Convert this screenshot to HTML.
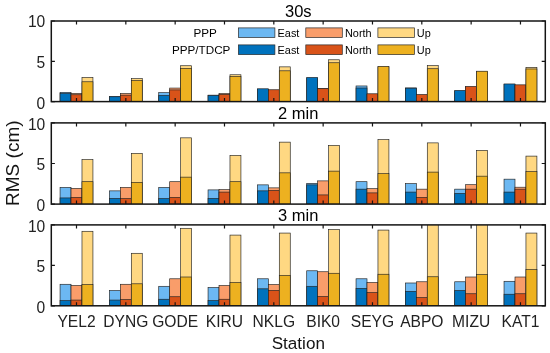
<!DOCTYPE html>
<html><head><meta charset="utf-8"><style>
html,body{margin:0;padding:0;background:#fff;width:550px;height:353px;overflow:hidden}
svg{display:block;font-family:'Liberation Sans', Arial, sans-serif}
</style></head><body>
<svg width="550" height="353" viewBox="0 0 550 353">
<rect x="0" y="0" width="550" height="353" fill="#fff"/>
<g>
<clipPath id="c0"><rect x="51.3" y="21.0" width="493.99999999999994" height="80.6"/></clipPath>
<g clip-path="url(#c0)" stroke="#222" stroke-width="0.65">
<rect x="60.06" y="92.33" width="10.96" height="9.27" fill="#6cb8f2"/>
<rect x="60.06" y="93.54" width="10.96" height="8.06" fill="#0072bd"/>
<rect x="71.02" y="93.38" width="10.96" height="8.22" fill="#f99d6a"/>
<rect x="71.02" y="94.75" width="10.96" height="6.85" fill="#d95319"/>
<rect x="81.98" y="77.42" width="10.96" height="24.18" fill="#ffd882"/>
<rect x="81.98" y="81.77" width="10.96" height="19.83" fill="#edb120"/>
<rect x="109.39" y="96.44" width="10.96" height="5.16" fill="#6cb8f2"/>
<rect x="109.39" y="96.76" width="10.96" height="4.84" fill="#0072bd"/>
<rect x="120.35" y="93.46" width="10.96" height="8.14" fill="#f99d6a"/>
<rect x="120.35" y="95.15" width="10.96" height="6.45" fill="#d95319"/>
<rect x="131.31" y="78.63" width="10.96" height="22.97" fill="#ffd882"/>
<rect x="131.31" y="80.48" width="10.96" height="21.12" fill="#edb120"/>
<rect x="158.72" y="92.65" width="10.96" height="8.95" fill="#6cb8f2"/>
<rect x="158.72" y="95.31" width="10.96" height="6.29" fill="#0072bd"/>
<rect x="169.68" y="88.06" width="10.96" height="13.54" fill="#f99d6a"/>
<rect x="169.68" y="89.91" width="10.96" height="11.69" fill="#d95319"/>
<rect x="180.64" y="65.73" width="10.96" height="35.87" fill="#ffd882"/>
<rect x="180.64" y="68.39" width="10.96" height="33.21" fill="#edb120"/>
<rect x="208.05" y="95.15" width="10.96" height="6.45" fill="#6cb8f2"/>
<rect x="208.05" y="95.55" width="10.96" height="6.05" fill="#0072bd"/>
<rect x="219.01" y="93.54" width="10.96" height="8.06" fill="#f99d6a"/>
<rect x="219.01" y="94.35" width="10.96" height="7.25" fill="#d95319"/>
<rect x="229.97" y="74.76" width="10.96" height="26.84" fill="#ffd882"/>
<rect x="229.97" y="76.37" width="10.96" height="25.23" fill="#edb120"/>
<rect x="257.38" y="89.51" width="10.96" height="12.09" fill="#6cb8f2"/>
<rect x="257.38" y="88.78" width="10.96" height="12.82" fill="#0072bd"/>
<rect x="268.34" y="90.32" width="10.96" height="11.28" fill="#f99d6a"/>
<rect x="268.34" y="89.75" width="10.96" height="11.85" fill="#d95319"/>
<rect x="279.30" y="66.86" width="10.96" height="34.74" fill="#ffd882"/>
<rect x="279.30" y="70.81" width="10.96" height="30.79" fill="#edb120"/>
<rect x="306.71" y="78.23" width="10.96" height="23.37" fill="#6cb8f2"/>
<rect x="306.71" y="77.42" width="10.96" height="24.18" fill="#0072bd"/>
<rect x="317.67" y="88.38" width="10.96" height="13.22" fill="#f99d6a"/>
<rect x="317.67" y="88.70" width="10.96" height="12.90" fill="#d95319"/>
<rect x="328.63" y="59.77" width="10.96" height="41.83" fill="#ffd882"/>
<rect x="328.63" y="62.75" width="10.96" height="38.85" fill="#edb120"/>
<rect x="356.04" y="85.96" width="10.96" height="15.64" fill="#6cb8f2"/>
<rect x="356.04" y="87.98" width="10.96" height="13.62" fill="#0072bd"/>
<rect x="367.00" y="94.35" width="10.96" height="7.25" fill="#f99d6a"/>
<rect x="367.00" y="93.78" width="10.96" height="7.82" fill="#d95319"/>
<rect x="377.96" y="66.94" width="10.96" height="34.66" fill="#ffd882"/>
<rect x="377.96" y="66.38" width="10.96" height="35.22" fill="#edb120"/>
<rect x="405.37" y="87.90" width="10.96" height="13.70" fill="#6cb8f2"/>
<rect x="405.37" y="88.22" width="10.96" height="13.38" fill="#0072bd"/>
<rect x="416.33" y="95.15" width="10.96" height="6.45" fill="#f99d6a"/>
<rect x="416.33" y="94.59" width="10.96" height="7.01" fill="#d95319"/>
<rect x="427.29" y="65.65" width="10.96" height="35.95" fill="#ffd882"/>
<rect x="427.29" y="68.72" width="10.96" height="32.88" fill="#edb120"/>
<rect x="454.70" y="91.12" width="10.96" height="10.48" fill="#6cb8f2"/>
<rect x="454.70" y="90.48" width="10.96" height="11.12" fill="#0072bd"/>
<rect x="465.66" y="87.09" width="10.96" height="14.51" fill="#f99d6a"/>
<rect x="465.66" y="86.45" width="10.96" height="15.15" fill="#d95319"/>
<rect x="476.62" y="71.78" width="10.96" height="29.82" fill="#ffd882"/>
<rect x="476.62" y="71.21" width="10.96" height="30.39" fill="#edb120"/>
<rect x="504.03" y="84.67" width="10.96" height="16.93" fill="#6cb8f2"/>
<rect x="504.03" y="83.95" width="10.96" height="17.65" fill="#0072bd"/>
<rect x="514.99" y="85.48" width="10.96" height="16.12" fill="#f99d6a"/>
<rect x="514.99" y="84.84" width="10.96" height="16.76" fill="#d95319"/>
<rect x="525.95" y="67.34" width="10.96" height="34.25" fill="#ffd882"/>
<rect x="525.95" y="68.96" width="10.96" height="32.64" fill="#edb120"/>
</g>
<rect x="51.3" y="21.0" width="493.99999999999994" height="80.6" fill="none" stroke="#141414" stroke-width="1.5"/>
<path d="M76.50 101.6V98.0M76.50 21.0V24.6M125.83 101.6V98.0M125.83 21.0V24.6M175.16 101.6V98.0M175.16 21.0V24.6M224.49 101.6V98.0M224.49 21.0V24.6M273.82 101.6V98.0M273.82 21.0V24.6M323.15 101.6V98.0M323.15 21.0V24.6M372.48 101.6V98.0M372.48 21.0V24.6M421.81 101.6V98.0M421.81 21.0V24.6M471.14 101.6V98.0M471.14 21.0V24.6M520.47 101.6V98.0M520.47 21.0V24.6M51.3 101.60H54.9M545.3 101.60H541.6999999999999M51.3 61.30H54.9M545.3 61.30H541.6999999999999M51.3 21.00H54.9M545.3 21.00H541.6999999999999" stroke="#141414" stroke-width="1.2" fill="none"/>
<text x="45.3" y="108.50" text-anchor="end" font-size="15.6" fill="#222">0</text>
<text x="45.3" y="67.70" text-anchor="end" font-size="15.6" fill="#222">5</text>
<text x="45.3" y="26.50" text-anchor="end" font-size="15.6" fill="#222">10</text>
<text x="298.29999999999995" y="16.50" text-anchor="middle" font-size="16.5" fill="#000">30s</text>
</g>
<g>
<clipPath id="c1"><rect x="51.3" y="122.9" width="493.99999999999994" height="81.19999999999999"/></clipPath>
<g clip-path="url(#c1)" stroke="#222" stroke-width="0.65">
<rect x="60.06" y="187.37" width="10.96" height="16.73" fill="#6cb8f2"/>
<rect x="60.06" y="197.93" width="10.96" height="6.17" fill="#0072bd"/>
<rect x="71.02" y="188.35" width="10.96" height="15.75" fill="#f99d6a"/>
<rect x="71.02" y="197.36" width="10.96" height="6.74" fill="#d95319"/>
<rect x="81.98" y="159.60" width="10.96" height="44.50" fill="#ffd882"/>
<rect x="81.98" y="181.69" width="10.96" height="22.41" fill="#edb120"/>
<rect x="109.39" y="190.86" width="10.96" height="13.24" fill="#6cb8f2"/>
<rect x="109.39" y="198.42" width="10.96" height="5.68" fill="#0072bd"/>
<rect x="120.35" y="187.37" width="10.96" height="16.73" fill="#f99d6a"/>
<rect x="120.35" y="198.58" width="10.96" height="5.52" fill="#d95319"/>
<rect x="131.31" y="153.35" width="10.96" height="50.75" fill="#ffd882"/>
<rect x="131.31" y="182.34" width="10.96" height="21.76" fill="#edb120"/>
<rect x="158.72" y="187.37" width="10.96" height="16.73" fill="#6cb8f2"/>
<rect x="158.72" y="198.58" width="10.96" height="5.52" fill="#0072bd"/>
<rect x="169.68" y="181.69" width="10.96" height="22.41" fill="#f99d6a"/>
<rect x="169.68" y="197.36" width="10.96" height="6.74" fill="#d95319"/>
<rect x="180.64" y="137.84" width="10.96" height="66.26" fill="#ffd882"/>
<rect x="180.64" y="177.14" width="10.96" height="26.96" fill="#edb120"/>
<rect x="208.05" y="189.89" width="10.96" height="14.21" fill="#6cb8f2"/>
<rect x="208.05" y="198.42" width="10.96" height="5.68" fill="#0072bd"/>
<rect x="219.01" y="189.65" width="10.96" height="14.45" fill="#f99d6a"/>
<rect x="219.01" y="192.08" width="10.96" height="12.02" fill="#d95319"/>
<rect x="229.97" y="155.38" width="10.96" height="48.72" fill="#ffd882"/>
<rect x="229.97" y="181.69" width="10.96" height="22.41" fill="#edb120"/>
<rect x="257.38" y="184.86" width="10.96" height="19.24" fill="#6cb8f2"/>
<rect x="257.38" y="190.86" width="10.96" height="13.24" fill="#0072bd"/>
<rect x="268.34" y="187.86" width="10.96" height="16.24" fill="#f99d6a"/>
<rect x="268.34" y="190.38" width="10.96" height="13.72" fill="#d95319"/>
<rect x="279.30" y="142.14" width="10.96" height="61.96" fill="#ffd882"/>
<rect x="279.30" y="172.84" width="10.96" height="31.26" fill="#edb120"/>
<rect x="306.71" y="183.39" width="10.96" height="20.71" fill="#6cb8f2"/>
<rect x="306.71" y="184.86" width="10.96" height="19.24" fill="#0072bd"/>
<rect x="317.67" y="180.88" width="10.96" height="23.22" fill="#f99d6a"/>
<rect x="317.67" y="194.92" width="10.96" height="9.18" fill="#d95319"/>
<rect x="328.63" y="145.39" width="10.96" height="58.71" fill="#ffd882"/>
<rect x="328.63" y="171.13" width="10.96" height="32.97" fill="#edb120"/>
<rect x="356.04" y="181.69" width="10.96" height="22.41" fill="#6cb8f2"/>
<rect x="356.04" y="189.16" width="10.96" height="14.94" fill="#0072bd"/>
<rect x="367.00" y="188.67" width="10.96" height="15.43" fill="#f99d6a"/>
<rect x="367.00" y="192.89" width="10.96" height="11.21" fill="#d95319"/>
<rect x="377.96" y="139.63" width="10.96" height="64.47" fill="#ffd882"/>
<rect x="377.96" y="173.65" width="10.96" height="30.45" fill="#edb120"/>
<rect x="405.37" y="183.64" width="10.96" height="20.46" fill="#6cb8f2"/>
<rect x="405.37" y="192.08" width="10.96" height="12.02" fill="#0072bd"/>
<rect x="416.33" y="189.16" width="10.96" height="14.94" fill="#f99d6a"/>
<rect x="416.33" y="197.36" width="10.96" height="6.74" fill="#d95319"/>
<rect x="427.29" y="142.88" width="10.96" height="61.22" fill="#ffd882"/>
<rect x="427.29" y="172.11" width="10.96" height="31.99" fill="#edb120"/>
<rect x="454.70" y="189.16" width="10.96" height="14.94" fill="#6cb8f2"/>
<rect x="454.70" y="193.38" width="10.96" height="10.72" fill="#0072bd"/>
<rect x="465.66" y="184.69" width="10.96" height="19.41" fill="#f99d6a"/>
<rect x="465.66" y="189.16" width="10.96" height="14.94" fill="#d95319"/>
<rect x="476.62" y="150.35" width="10.96" height="53.75" fill="#ffd882"/>
<rect x="476.62" y="176.17" width="10.96" height="27.93" fill="#edb120"/>
<rect x="504.03" y="179.17" width="10.96" height="24.93" fill="#6cb8f2"/>
<rect x="504.03" y="192.08" width="10.96" height="12.02" fill="#0072bd"/>
<rect x="514.99" y="187.21" width="10.96" height="16.89" fill="#f99d6a"/>
<rect x="514.99" y="189.16" width="10.96" height="14.94" fill="#d95319"/>
<rect x="525.95" y="156.11" width="10.96" height="47.99" fill="#ffd882"/>
<rect x="525.95" y="171.62" width="10.96" height="32.48" fill="#edb120"/>
</g>
<rect x="51.3" y="122.9" width="493.99999999999994" height="81.19999999999999" fill="none" stroke="#141414" stroke-width="1.5"/>
<path d="M76.50 204.1V200.5M76.50 122.9V126.5M125.83 204.1V200.5M125.83 122.9V126.5M175.16 204.1V200.5M175.16 122.9V126.5M224.49 204.1V200.5M224.49 122.9V126.5M273.82 204.1V200.5M273.82 122.9V126.5M323.15 204.1V200.5M323.15 122.9V126.5M372.48 204.1V200.5M372.48 122.9V126.5M421.81 204.1V200.5M421.81 122.9V126.5M471.14 204.1V200.5M471.14 122.9V126.5M520.47 204.1V200.5M520.47 122.9V126.5M51.3 204.10H54.9M545.3 204.10H541.6999999999999M51.3 163.50H54.9M545.3 163.50H541.6999999999999M51.3 122.90H54.9M545.3 122.90H541.6999999999999" stroke="#141414" stroke-width="1.2" fill="none"/>
<text x="45.3" y="210.60" text-anchor="end" font-size="15.6" fill="#222">0</text>
<text x="45.3" y="170.30" text-anchor="end" font-size="15.6" fill="#222">5</text>
<text x="45.3" y="130.10" text-anchor="end" font-size="15.6" fill="#222">10</text>
<text x="298.29999999999995" y="119.00" text-anchor="middle" font-size="16.5" fill="#000">2 min</text>
</g>
<g>
<clipPath id="c2"><rect x="51.3" y="224.9" width="493.99999999999994" height="80.9"/></clipPath>
<g clip-path="url(#c2)" stroke="#222" stroke-width="0.65">
<rect x="60.06" y="284.28" width="10.96" height="21.52" fill="#6cb8f2"/>
<rect x="60.06" y="300.54" width="10.96" height="5.26" fill="#0072bd"/>
<rect x="71.02" y="285.49" width="10.96" height="20.31" fill="#f99d6a"/>
<rect x="71.02" y="300.06" width="10.96" height="5.74" fill="#d95319"/>
<rect x="81.98" y="231.29" width="10.96" height="74.51" fill="#ffd882"/>
<rect x="81.98" y="284.52" width="10.96" height="21.28" fill="#edb120"/>
<rect x="109.39" y="290.51" width="10.96" height="15.29" fill="#6cb8f2"/>
<rect x="109.39" y="300.06" width="10.96" height="5.74" fill="#0072bd"/>
<rect x="120.35" y="284.28" width="10.96" height="21.52" fill="#f99d6a"/>
<rect x="120.35" y="299.57" width="10.96" height="6.23" fill="#d95319"/>
<rect x="131.31" y="253.30" width="10.96" height="52.50" fill="#ffd882"/>
<rect x="131.31" y="283.80" width="10.96" height="22.00" fill="#edb120"/>
<rect x="158.72" y="286.30" width="10.96" height="19.50" fill="#6cb8f2"/>
<rect x="158.72" y="299.25" width="10.96" height="6.55" fill="#0072bd"/>
<rect x="169.68" y="278.78" width="10.96" height="27.02" fill="#f99d6a"/>
<rect x="169.68" y="296.74" width="10.96" height="9.06" fill="#d95319"/>
<rect x="180.64" y="228.30" width="10.96" height="77.50" fill="#ffd882"/>
<rect x="180.64" y="277.00" width="10.96" height="28.80" fill="#edb120"/>
<rect x="208.05" y="287.52" width="10.96" height="18.28" fill="#6cb8f2"/>
<rect x="208.05" y="300.54" width="10.96" height="5.26" fill="#0072bd"/>
<rect x="219.01" y="285.49" width="10.96" height="20.31" fill="#f99d6a"/>
<rect x="219.01" y="299.25" width="10.96" height="6.55" fill="#d95319"/>
<rect x="229.97" y="235.09" width="10.96" height="70.71" fill="#ffd882"/>
<rect x="229.97" y="282.50" width="10.96" height="23.30" fill="#edb120"/>
<rect x="257.38" y="278.78" width="10.96" height="27.02" fill="#6cb8f2"/>
<rect x="257.38" y="288.81" width="10.96" height="16.99" fill="#0072bd"/>
<rect x="268.34" y="284.52" width="10.96" height="21.28" fill="#f99d6a"/>
<rect x="268.34" y="290.35" width="10.96" height="15.45" fill="#d95319"/>
<rect x="279.30" y="233.07" width="10.96" height="72.73" fill="#ffd882"/>
<rect x="279.30" y="275.46" width="10.96" height="30.34" fill="#edb120"/>
<rect x="306.71" y="270.77" width="10.96" height="35.03" fill="#6cb8f2"/>
<rect x="306.71" y="286.30" width="10.96" height="19.50" fill="#0072bd"/>
<rect x="317.67" y="271.74" width="10.96" height="34.06" fill="#f99d6a"/>
<rect x="317.67" y="296.50" width="10.96" height="9.30" fill="#d95319"/>
<rect x="328.63" y="229.59" width="10.96" height="76.21" fill="#ffd882"/>
<rect x="328.63" y="273.28" width="10.96" height="32.52" fill="#edb120"/>
<rect x="356.04" y="278.78" width="10.96" height="27.02" fill="#6cb8f2"/>
<rect x="356.04" y="288.33" width="10.96" height="17.47" fill="#0072bd"/>
<rect x="367.00" y="282.50" width="10.96" height="23.30" fill="#f99d6a"/>
<rect x="367.00" y="292.53" width="10.96" height="13.27" fill="#d95319"/>
<rect x="377.96" y="230.08" width="10.96" height="75.72" fill="#ffd882"/>
<rect x="377.96" y="274.25" width="10.96" height="31.55" fill="#edb120"/>
<rect x="405.37" y="282.99" width="10.96" height="22.81" fill="#6cb8f2"/>
<rect x="405.37" y="291.32" width="10.96" height="14.48" fill="#0072bd"/>
<rect x="416.33" y="281.77" width="10.96" height="24.03" fill="#f99d6a"/>
<rect x="416.33" y="297.55" width="10.96" height="8.25" fill="#d95319"/>
<rect x="427.29" y="220.61" width="10.96" height="85.19" fill="#ffd882"/>
<rect x="427.29" y="276.76" width="10.96" height="29.04" fill="#edb120"/>
<rect x="454.70" y="281.77" width="10.96" height="24.03" fill="#6cb8f2"/>
<rect x="454.70" y="290.51" width="10.96" height="15.29" fill="#0072bd"/>
<rect x="465.66" y="277.00" width="10.96" height="28.80" fill="#f99d6a"/>
<rect x="465.66" y="293.75" width="10.96" height="12.05" fill="#d95319"/>
<rect x="476.62" y="220.61" width="10.96" height="85.19" fill="#ffd882"/>
<rect x="476.62" y="274.57" width="10.96" height="31.23" fill="#edb120"/>
<rect x="504.03" y="281.29" width="10.96" height="24.51" fill="#6cb8f2"/>
<rect x="504.03" y="294.23" width="10.96" height="11.57" fill="#0072bd"/>
<rect x="514.99" y="277.00" width="10.96" height="28.80" fill="#f99d6a"/>
<rect x="514.99" y="293.75" width="10.96" height="12.05" fill="#d95319"/>
<rect x="525.95" y="233.07" width="10.96" height="72.73" fill="#ffd882"/>
<rect x="525.95" y="269.56" width="10.96" height="36.24" fill="#edb120"/>
</g>
<rect x="51.3" y="224.9" width="493.99999999999994" height="80.9" fill="none" stroke="#141414" stroke-width="1.5"/>
<path d="M76.50 305.8V302.2M76.50 224.9V228.5M125.83 305.8V302.2M125.83 224.9V228.5M175.16 305.8V302.2M175.16 224.9V228.5M224.49 305.8V302.2M224.49 224.9V228.5M273.82 305.8V302.2M273.82 224.9V228.5M323.15 305.8V302.2M323.15 224.9V228.5M372.48 305.8V302.2M372.48 224.9V228.5M421.81 305.8V302.2M421.81 224.9V228.5M471.14 305.8V302.2M471.14 224.9V228.5M520.47 305.8V302.2M520.47 224.9V228.5M51.3 305.80H54.9M545.3 305.80H541.6999999999999M51.3 265.35H54.9M545.3 265.35H541.6999999999999M51.3 224.90H54.9M545.3 224.90H541.6999999999999" stroke="#141414" stroke-width="1.2" fill="none"/>
<text x="45.3" y="312.90" text-anchor="end" font-size="15.6" fill="#222">0</text>
<text x="45.3" y="272.15" text-anchor="end" font-size="15.6" fill="#222">5</text>
<text x="45.3" y="232.00" text-anchor="end" font-size="15.6" fill="#222">10</text>
<text x="298.29999999999995" y="221.00" text-anchor="middle" font-size="16.5" fill="#000">3 min</text>
</g>
<text x="76.50" y="327.4" text-anchor="middle" font-size="15.6" fill="#222">YEL2</text>
<text x="125.83" y="327.4" text-anchor="middle" font-size="15.6" fill="#222">DYNG</text>
<text x="175.16" y="327.4" text-anchor="middle" font-size="15.6" fill="#222">GODE</text>
<text x="224.49" y="327.4" text-anchor="middle" font-size="15.6" fill="#222">KIRU</text>
<text x="273.82" y="327.4" text-anchor="middle" font-size="15.6" fill="#222">NKLG</text>
<text x="323.15" y="327.4" text-anchor="middle" font-size="15.6" fill="#222">BIK0</text>
<text x="372.48" y="327.4" text-anchor="middle" font-size="15.6" fill="#222">SEYG</text>
<text x="421.81" y="327.4" text-anchor="middle" font-size="15.6" fill="#222">ABPO</text>
<text x="471.14" y="327.4" text-anchor="middle" font-size="15.6" fill="#222">MIZU</text>
<text x="520.47" y="327.4" text-anchor="middle" font-size="15.6" fill="#222">KAT1</text>
<text x="298.29999999999995" y="349.2" text-anchor="middle" font-size="17.1" fill="#141414">Station</text>
<text transform="translate(18.6,163.2) rotate(-90)" text-anchor="middle" font-size="19" fill="#141414">RMS (cm)</text>
<text x="216.8" y="36.9" text-anchor="end" font-size="11.7" fill="#000">PPP</text>
<rect x="238.4" y="27.9" width="36.5" height="9.6" fill="#6cb8f2" stroke="#2a2a2a" stroke-width="0.7"/>
<text x="277.6" y="36.9" font-size="10.9" fill="#000">East</text>
<rect x="305.8" y="27.9" width="36.5" height="9.6" fill="#f99d6a" stroke="#2a2a2a" stroke-width="0.7"/>
<text x="345.0" y="36.9" font-size="10.9" fill="#000">North</text>
<rect x="377.9" y="27.9" width="36.5" height="9.6" fill="#ffd882" stroke="#2a2a2a" stroke-width="0.7"/>
<text x="416.8" y="36.9" font-size="10.9" fill="#000">Up</text>
<text x="230.4" y="53.8" text-anchor="end" font-size="11.7" fill="#000">PPP/TDCP</text>
<rect x="238.4" y="44.9" width="36.5" height="9.7" fill="#0072bd" stroke="#2a2a2a" stroke-width="0.7"/>
<text x="277.6" y="54.4" font-size="10.9" fill="#000">East</text>
<rect x="305.8" y="44.9" width="36.5" height="9.7" fill="#d95319" stroke="#2a2a2a" stroke-width="0.7"/>
<text x="345.0" y="54.4" font-size="10.9" fill="#000">North</text>
<rect x="377.9" y="44.9" width="36.5" height="9.7" fill="#edb120" stroke="#2a2a2a" stroke-width="0.7"/>
<text x="416.8" y="54.4" font-size="10.9" fill="#000">Up</text>
</svg>
</body></html>
